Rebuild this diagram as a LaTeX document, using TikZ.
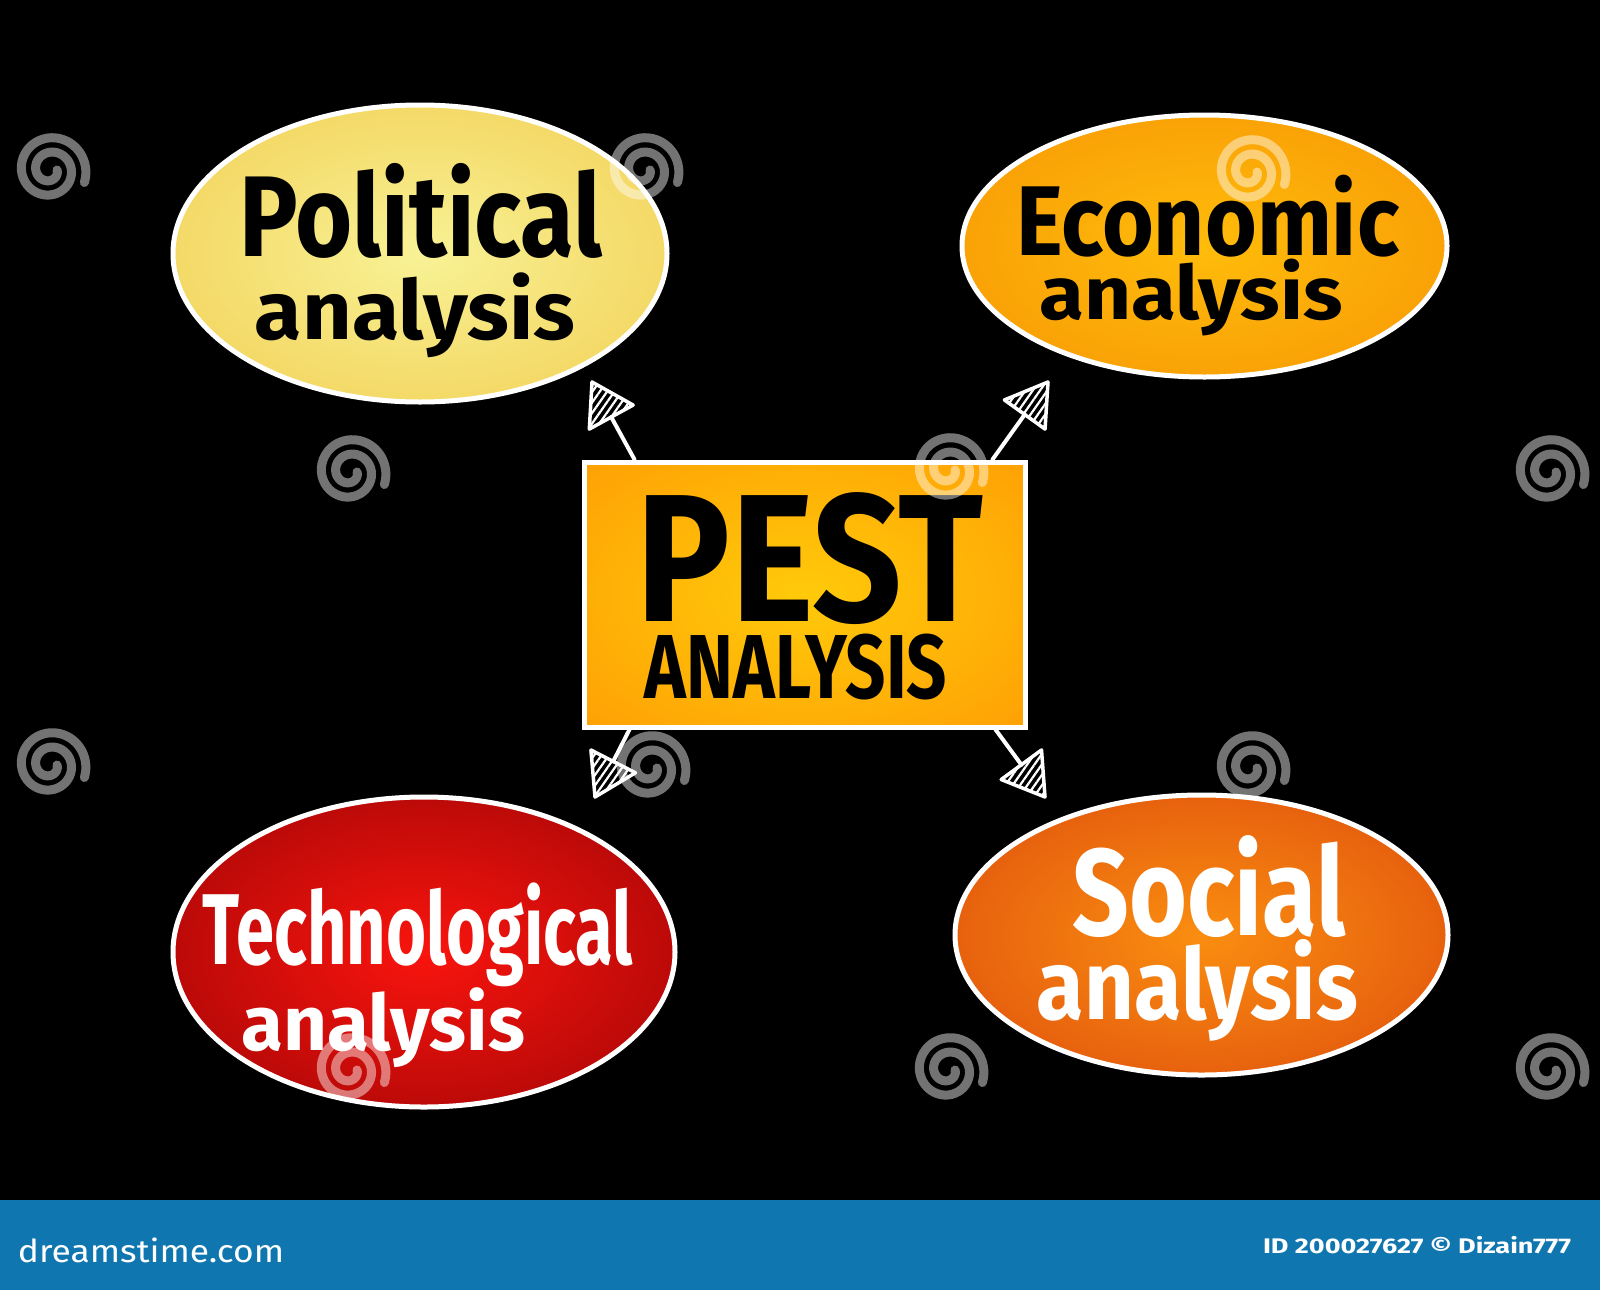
\documentclass[tikz,border=0pt]{standalone}
\usepackage{fontspec}
\setmainfont{Fira Sans}
\usepackage{graphicx}
\usetikzlibrary{shapes.geometric,calc,patterns.meta}

\definecolor{polin}{RGB}{248,242,150}
\definecolor{polout}{RGB}{240,192,55}
\definecolor{ecoin}{RGB}{255,188,10}
\definecolor{ecoout}{RGB}{244,136,4}
\definecolor{pestin}{RGB}{255,202,10}
\definecolor{pestout}{RGB}{255,144,2}
\definecolor{tecin}{RGB}{250,20,14}
\definecolor{tecout}{RGB}{125,0,2}
\definecolor{socin}{RGB}{250,142,16}
\definecolor{socout}{RGB}{212,52,12}
\definecolor{footblue}{RGB}{16,118,176}

\pgfdeclareradialshading{polsh}{\pgfpoint{0bp}{0bp}}{color(0bp)=(polin); color(50bp)=(polout); color(75bp)=(polout)}
\pgfdeclareradialshading{ecosh}{\pgfpoint{0bp}{0bp}}{color(0bp)=(ecoin); color(50bp)=(ecoout); color(75bp)=(ecoout)}
\pgfdeclareradialshading{pestsh}{\pgfpoint{0bp}{0bp}}{color(0bp)=(pestin); color(50bp)=(pestout); color(75bp)=(pestout)}
\pgfdeclareradialshading{tecsh}{\pgfpoint{0bp}{0bp}}{color(0bp)=(tecin); color(50bp)=(tecout); color(75bp)=(tecout)}
\pgfdeclareradialshading{socsh}{\pgfpoint{0bp}{0bp}}{color(0bp)=(socin); color(50bp)=(socout); color(75bp)=(socout)}

\begin{document}
\begin{tikzpicture}[x=1pt,y=-1pt,
  blob/.style={ellipse, draw=white, line width=5pt, inner sep=0pt, shade},
  card/.style={rectangle, draw=white, line width=5pt, inner sep=0pt, shade},
  lbl/.style={inner sep=0pt, align=center, font=\bfseries},
  conn/.style={draw=white, line width=4pt, line cap=round},
  head/.style={draw=white, line width=3.5pt, line join=round,
    pattern={Lines[angle=55,distance=6pt,line width=2.2pt]}, pattern color=white},
  wm/.style={draw=white, draw opacity=0.45, line width=9pt, line cap=round},
  wspiral/.pic={\draw[wm] plot[domain=0:740, samples=90, smooth]
      ({(7+\x/25)*cos(\x)}, {(7+\x/25)*sin(\x)});}
]
\path[use as bounding box] (0,0) rectangle (1600,1290);
\fill[black] (0,0) rectangle (1600,1200);
\fill[footblue] (0,1200) rectangle (1600,1290);

% shapes
\node[blob, shading=polsh, minimum width=494pt, minimum height=297pt] (pol) at (420,253.5) {};
\node[blob, shading=ecosh, minimum width=485pt, minimum height=262pt] (eco) at (1204.5,246) {};
\node[blob, shading=tecsh, minimum width=502pt, minimum height=310pt] (tec) at (424,952) {};
\node[blob, shading=socsh, minimum width=493pt, minimum height=280pt] (soc) at (1201.5,935) {};
\node[card, shading=pestsh, minimum width=441pt, minimum height=265pt] (pest) at (804.5,594.5) {};

% labels
\node[lbl, text=black] (poltxt) at (421,260.5)
  {\resizebox*{363pt}{95pt}{Political}\\[14pt]\hspace*{-12pt}\resizebox*{320pt}{85pt}{analysis}};
\node[lbl, text=black] (ecotxt) at (1208,256)
  {\resizebox*{383pt}{82pt}{Economic}\\[1pt]\hspace*{-34pt}\resizebox*{303pt}{77pt}{analysis}};
\node[lbl, text=black] (pesttxt) at (810,596)
  {\resizebox*{346pt}{132pt}{PEST}\\[8pt]\hspace*{-28pt}\resizebox*{302pt}{66pt}{ANALYSIS}};
\node[lbl, text=white] (tectxt) at (418,975)
  {\resizebox*{430pt}{104pt}{Technological}\\[0pt]\hspace*{-69pt}\resizebox*{283pt}{80pt}{analysis}};
\node[lbl, text=white] (soctxt) at (1197.5,938.5)
  {\hspace*{23pt}\resizebox*{273pt}{102pt}{Social}\\[1pt]\resizebox*{321pt}{102pt}{analysis}};

% connectors
\coordinate (s1) at ($(pest.north west)+(53,0)$);
\coordinate (s2) at ($(pest.north east)+(-35,0)$);
\coordinate (s3) at ($(pest.south west)+(48,0)$);
\coordinate (s4) at ($(pest.south east)+(-32,0)$);
\coordinate (t1) at (592,382);
\coordinate (t2) at (1048,382);
\coordinate (t3) at (595,797);
\coordinate (t4) at (1045,797);
\foreach \i in {1,2,3,4}{
  \coordinate (b\i) at ($(t\i)!40pt!(s\i)$);
  \draw[conn] (s\i) -- (b\i);
  \draw[head] ($(b\i)!25pt!90:(t\i)$) -- (t\i) -- ($(b\i)!25pt!-90:(t\i)$) -- cycle;
}

% watermark spirals
\foreach \p in {(50,170),(643,170),(1250,172),(350,472),(948,470),(1549,472),
                (50,765),(650,768),(1250,768),(350,1070),(948,1070),(1549,1070)}
  \pic at \p {wspiral};

% footer
\node[inner sep=0pt, text=white] (brand) at (151,1250.5)
  {\resizebox*{266pt}{25pt}{dreamstime.com}};
\node[inner sep=0pt, text=white, font=\bfseries] (credit) at (1417,1245.5)
  {\resizebox*{308pt}{17.5pt}{ID 200027627 © Dizain777}};
\end{tikzpicture}
\end{document}
